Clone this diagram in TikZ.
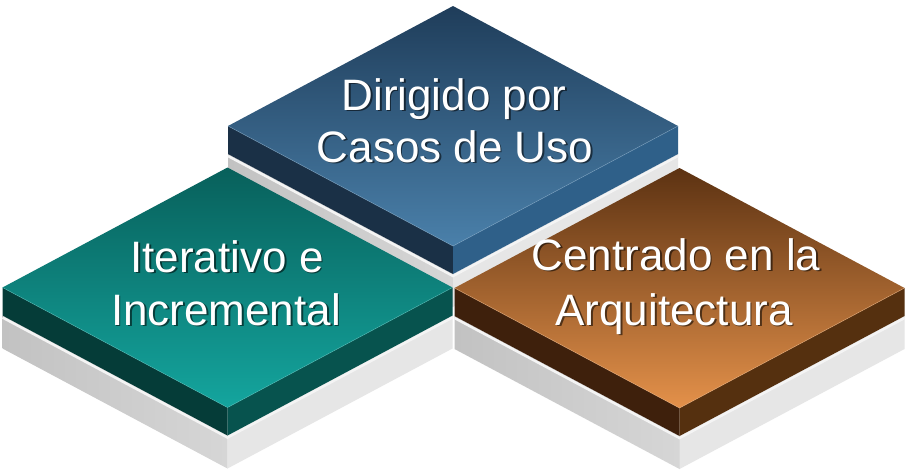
\documentclass[tikz,border=0pt]{standalone}
\usepackage{fontspec}
\setmainfont{Liberation Sans}
\definecolor{tealA}{HTML}{08605B}
\definecolor{tealB}{HTML}{14A59E}
\definecolor{tealL}{HTML}{053C38}
\definecolor{tealR}{HTML}{07534E}
\definecolor{blueA}{HTML}{1F3D5A}
\definecolor{blueB}{HTML}{4A80AA}
\definecolor{blueL}{HTML}{1A3046}
\definecolor{blueR}{HTML}{2F6089}
\definecolor{brownA}{HTML}{5C3212}
\definecolor{brownB}{HTML}{E4914A}
\definecolor{brownL}{HTML}{3E200C}
\definecolor{brownR}{HTML}{55300F}
\definecolor{baseL}{HTML}{C2C2C2}
\definecolor{baseLL}{HTML}{D6D6D6}
\definecolor{baseR}{HTML}{E6E6E6}
\definecolor{baseTop}{HTML}{F4F4F4}
\tikzset{
  lbl/.style={anchor=base, inner sep=0pt, text=white, font=\fontsize{44}{52}\selectfont},
  lblshadow/.style={lbl, text=black, text opacity=0.55},
}
% #1 cx, #2 cy (centre of top face), #3 top colour A, #4 top colour B, #5 left face, #6 right face
\newcommand{\tileslab}[6]{%
  \pgfmathsetmacro\tsLx{#1-225}%
  \pgfmathsetmacro\tsRx{#1+225}%
  \pgfmathsetmacro\tsTy{#2-120}%
  \pgfmathsetmacro\tsBy{#2+120}%
  \pgfmathsetmacro\tsSa{#2+28}%
  \pgfmathsetmacro\tsSb{\tsBy+28}%
  \pgfmathsetmacro\tsGa{#2+61}%
  \pgfmathsetmacro\tsGb{\tsBy+61}%
  % grey base
  \shade[left color=baseL, right color=baseLL] (\tsLx,\tsSa) -- (#1,\tsSb) -- (#1,\tsGb) -- (\tsLx,\tsGa) -- cycle;
  \fill[baseR] (#1,\tsSb) -- (\tsRx,\tsSa) -- (\tsRx,\tsGa) -- (#1,\tsGb) -- cycle;
  \draw[baseTop, line width=2.5pt] (\tsLx,\tsSa+2) -- (#1,\tsSb+2) -- (\tsRx,\tsSa+2);
  % coloured slab
  \fill[#5] (\tsLx,#2) -- (#1,\tsBy) -- (#1,\tsSb) -- (\tsLx,\tsSa) -- cycle;
  \fill[#6] (#1,\tsBy) -- (\tsRx,#2) -- (\tsRx,\tsSa) -- (#1,\tsSb) -- cycle;
  \shade[top color=#3, bottom color=#4] (\tsLx,#2) -- (#1,\tsTy) -- (\tsRx,#2) -- (#1,\tsBy) -- cycle;
  \draw[#4!70!white, line width=0.6pt, opacity=0.6] (\tsLx,#2) -- (#1,\tsBy) -- (\tsRx,#2);
}
\newcommand{\tiletext}[4]{%
  \node[lblshadow] (#1s) at (#2+1.8,#3+1.8) {#4};
  \node[lbl] (#1) at (#2,#3) {#4};
}
\begin{document}
\begin{tikzpicture}[x=1pt,y=-1pt]
\useasboundingbox (0,0) rectangle (909,475);
\fill[white] (0,0) rectangle (909,475);
% back tile (blue)
\tileslab{453}{126}{blueA}{blueB}{blueL}{blueR}
% front tiles
\tileslab{227.5}{287.5}{tealA}{tealB}{tealL}{tealR}
\tileslab{679.5}{288}{brownA}{brownB}{brownL}{brownR}
% texts
\tiletext{d1}{454}{110}{Dirigido por}
\tiletext{d2}{455}{162}{Casos de Uso}
\tiletext{i1}{227}{272}{Iterativo e}
\tiletext{i2}{226}{325}{Incremental}
\tiletext{c1}{676}{270}{Centrado en la}
\tiletext{c2}{674}{325}{Arquitectura}
\end{tikzpicture}
\end{document}
